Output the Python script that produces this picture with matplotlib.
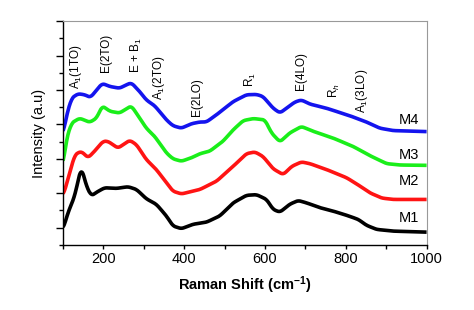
import numpy as np
import matplotlib
matplotlib.use("Agg")
import matplotlib.pyplot as plt
from matplotlib.ticker import MultipleLocator

plt.rcParams['font.family'] = ['Liberation Sans', 'DejaVu Sans']
plt.rcParams['mathtext.fontset'] = 'custom'
plt.rcParams['mathtext.rm'] = 'Liberation Sans'
plt.rcParams['mathtext.it'] = 'Liberation Sans:italic'
plt.rcParams['mathtext.bf'] = 'Liberation Sans:bold'

# Raman spectra (shift in cm^-1, stacked intensity in a.u.)
x_m1 = [100, 112, 129, 145, 158, 170, 183, 203, 232, 261, 282, 306, 331, 356, 372, 393,
        422, 455, 488, 521, 554, 579, 604, 620, 637, 661, 682, 703, 736, 769, 802, 831,
        851, 876, 917, 1000]
y_m1 = [-0.05, 0.43, 0.92, 1.78, 1.20, 0.92, 1.03, 1.16, 1.14, 1.19, 1.11, 0.84, 0.68, 0.34,
        0.05, -0.03, 0.10, 0.16, 0.34, 0.72, 0.94, 0.96, 0.82, 0.53, 0.45, 0.68, 0.79, 0.72,
        0.58, 0.48, 0.36, 0.24, 0.07, -0.05, -0.10, -0.13]

x_m2 = [100, 112, 129, 145, 162, 178, 199, 211, 236, 265, 282, 306, 331, 356, 372, 393,
        439, 480, 521, 554, 575, 595, 620, 645, 666, 690, 711, 752, 802, 827, 860, 889,
        917, 1000]
y_m2 = [0.92, 1.40, 2.12, 2.22, 2.03, 2.22, 2.51, 2.51, 2.31, 2.54, 2.41, 1.98, 1.69, 1.30,
        1.06, 0.98, 1.11, 1.35, 1.78, 2.15, 2.20, 2.07, 1.71, 1.54, 1.78, 1.91, 1.86, 1.69,
        1.45, 1.27, 1.01, 0.86, 0.82, 0.82]

x_m3 = [100, 108, 121, 141, 166, 183, 197, 216, 240, 269, 290, 306, 327, 356, 372, 393,
        418, 439, 463, 496, 521, 546, 571, 600, 616, 637, 661, 690, 719, 769, 818, 860,
        901, 934, 1000]
y_m3 = [1.78, 2.56, 3.04, 3.18, 3.06, 3.18, 3.54, 3.38, 3.33, 3.54, 3.18, 2.89, 2.65, 2.17,
        2.00, 1.93, 2.03, 2.15, 2.22, 2.51, 2.84, 3.11, 3.17, 3.13, 2.75, 2.49, 2.75, 2.94,
        2.80, 2.60, 2.36, 2.09, 1.86, 1.82, 1.81]

x_m4 = [100, 108, 121, 137, 154, 168, 183, 197, 216, 240, 257, 269, 290, 306, 327, 356,
        372, 393, 418, 439, 455, 480, 521, 554, 579, 595, 620, 637, 653, 674, 690, 711,
        752, 810, 851, 884, 917, 1000]
y_m4 = [2.70, 3.23, 3.76, 3.89, 3.86, 3.78, 4.00, 4.19, 4.10, 4.05, 4.15, 4.21, 3.95, 3.71,
        3.54, 3.13, 2.96, 2.89, 3.02, 3.07, 3.07, 3.28, 3.66, 3.86, 3.87, 3.81, 3.47, 3.33,
        3.47, 3.65, 3.71, 3.59, 3.47, 3.25, 3.07, 2.89, 2.82, 2.79]

samples = ['M1', 'M2', 'M3', 'M4']
colors = ['black', '#ff1414', '#1aee1a', '#1414ee']
sample_label_y = [0.27, 1.35, 2.12, 3.13]

# mode assignments: text, position, bottom of rotated label
modes = [r'A$_1$(1TO)', 'E(2TO)', r'E + B$_1$', r'A$_1$(2TO)', 'E(2LO)',
         r'R$_1$', 'E(4LO)', r'R$_h$', r'A$_1$(3LO)']
mode_x = [131, 206, 282, 338, 432, 564, 690, 773, 839]
mode_y = [4.02, 4.53, 4.48, 3.71, 3.25, 4.08, 4.00, 3.76, 3.33]

fig = plt.figure(figsize=(4.74, 3.10), dpi=100)
ax = fig.add_axes([0.133, 0.21, 0.767, 0.722])

for xs, ys, c in zip([x_m1, x_m2, x_m3, x_m4], [y_m1, y_m2, y_m3, y_m4], colors):
    xf = np.linspace(100, 1000, 600)
    # soften the corners of the traced points with a short moving average
    yf = np.interp(xf, xs, ys)
    k = np.ones(9) / 9
    yp = np.pad(yf, 4, mode='edge')
    yf = np.convolve(yp, k, mode='valid')
    ax.plot(xf, yf, color=c, lw=2.6, solid_capstyle='butt')

for s, yy in zip(samples, sample_label_y):
    ax.text(982, yy, s, ha='right', va='center', fontsize=10.5)

for m, xx, yy in zip(modes, mode_x, mode_y):
    ax.text(xx, yy, m, rotation=90, ha='center', va='bottom', fontsize=8.5)

ax.set_xlim(100, 1000)
ax.set_ylim(-0.5, 6)
ax.xaxis.set_major_locator(MultipleLocator(200))
ax.xaxis.set_minor_locator(MultipleLocator(100))
ax.yaxis.set_major_locator(MultipleLocator(1))
ax.yaxis.set_minor_locator(MultipleLocator(0.5))
ax.tick_params(axis='y', which='major', direction='out', length=5, width=1, labelleft=False)
ax.tick_params(axis='y', which='minor', direction='out', length=3, width=1)
ax.tick_params(axis='x', which='both', direction='out', length=3, width=1, labelsize=10.5)
ax.tick_params(axis='x', which='major', pad=2)

for sp in ['top', 'right']:
    ax.spines[sp].set_color('#999999')
    ax.spines[sp].set_linewidth(0.8)
for sp in ['left', 'bottom']:
    ax.spines[sp].set_linewidth(1.0)

ax.set_xlabel(r'Raman Shift (cm$^{\mathbf{-1}}$)', fontsize=10.5, fontweight='bold', labelpad=6)
ax.set_ylabel('Intensity (a.u)', fontsize=10.5, labelpad=6)

fig.savefig('out.png', dpi=100)
